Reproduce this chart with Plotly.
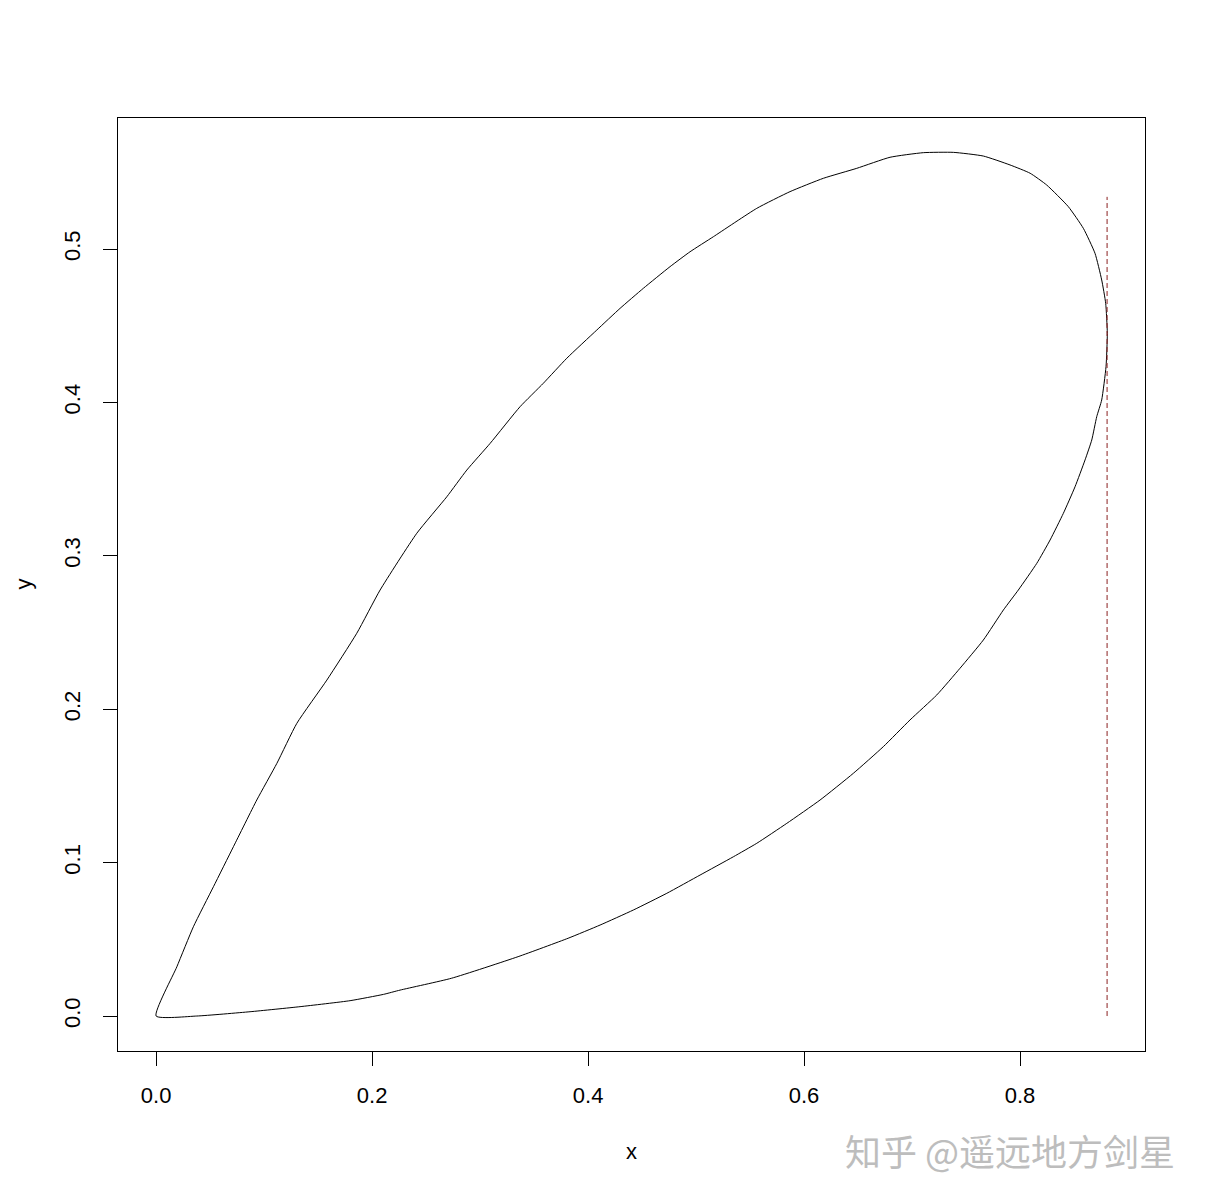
import plotly.graph_objects as go

# Closed loop curve, starting and ending at the origin
curve_x = [0.0000, 0.0192, 0.0345, 0.0531, 0.0716, 0.0932, 0.1118, 0.1303, 0.1581, 0.1858,
           0.2074, 0.2414, 0.2692, 0.2877, 0.3093, 0.3370, 0.3586, 0.3803, 0.4081, 0.4296,
           0.4512, 0.4759, 0.4944, 0.5160, 0.5562, 0.5870, 0.6179, 0.6488, 0.6796, 0.7105,
           0.7383, 0.7660, 0.7907, 0.8093, 0.8247, 0.8447, 0.8586, 0.8694, 0.8756, 0.8793,
           0.8808, 0.8796, 0.8756, 0.8710, 0.8664, 0.8602, 0.8509, 0.8401, 0.8278, 0.8155,
           0.7984, 0.7846, 0.7660, 0.7444, 0.7229, 0.6981, 0.6734, 0.6456, 0.6148, 0.5840,
           0.5562, 0.5345, 0.5037, 0.4729, 0.4419, 0.4111, 0.3815, 0.3352, 0.2734, 0.2259,
           0.2105, 0.1796, 0.1333, 0.0870, 0.0377, 0.0000]
curve_y = [0.0000, 0.0321, 0.0582, 0.0843, 0.1104, 0.1408, 0.1647, 0.1908, 0.2190, 0.2495,
           0.2777, 0.3147, 0.3385, 0.3559, 0.3733, 0.3972, 0.4125, 0.4288, 0.4472, 0.4613,
           0.4744, 0.4885, 0.4982, 0.5080, 0.5265, 0.5374, 0.5461, 0.5526, 0.5598, 0.5628,
           0.5630, 0.5606, 0.5548, 0.5494, 0.5417, 0.5276, 0.5135, 0.4972, 0.4798, 0.4646,
           0.4450, 0.4233, 0.4016, 0.3907, 0.3755, 0.3625, 0.3450, 0.3277, 0.3103, 0.2951,
           0.2777, 0.2647, 0.2451, 0.2267, 0.2093, 0.1930, 0.1756, 0.1582, 0.1408, 0.1256,
           0.1126, 0.1038, 0.0919, 0.0800, 0.0691, 0.0593, 0.0507, 0.0387, 0.0246, 0.0169,
           0.0141, 0.0100, 0.0061, 0.0028, 0.0000, 0.0000]

# Vertical dashed reference line
vline_x = [0.8806, 0.8806]
vline_y = [0.0, 0.534]

x_ticks = [0.0, 0.2, 0.4, 0.6, 0.8]
x_tick_labels = ["0.0", "0.2", "0.4", "0.6", "0.8"]
y_ticks = [0.0, 0.1, 0.2, 0.3, 0.4, 0.5]
y_tick_labels = ["0.0", "0.1", "0.2", "0.3", "0.4", "0.5"]

FONT = "Liberation Sans, Arial, sans-serif"

fig = go.Figure()
fig.add_trace(go.Scatter(x=curve_x, y=curve_y, mode="lines",
                         line=dict(color="black", width=1, shape="spline", smoothing=0.5),
                         showlegend=False, hoverinfo="skip"))
fig.add_trace(go.Scatter(x=vline_x, y=vline_y, mode="lines",
                         line=dict(color="#8b1f1f", width=1, dash="5px,3px"),
                         showlegend=False, hoverinfo="skip"))

axis_common = dict(showgrid=False, zeroline=False, showline=True, linecolor="black",
                   linewidth=1, mirror=True, ticks="outside", ticklen=14, tickwidth=1,
                   tickcolor="black", tickfont=dict(family=FONT, size=22, color="black"))

fig.update_xaxes(range=[-0.0353, 0.9157], tickvals=x_ticks, ticktext=x_tick_labels,
                 ticklabelstandoff=11, **axis_common)
fig.update_yaxes(range=[-0.0228, 0.5854], tickvals=y_ticks, ticktext=y_tick_labels,
                 tickangle=-90, ticklabelstandoff=14, **axis_common)

# page body has an 8px margin, so the figure is sized/positioned to compensate
fig.update_layout(
    width=1190, height=1182,
    margin=dict(l=110, r=53, t=110, b=139),
    paper_bgcolor="white", plot_bgcolor="white",
    font=dict(family=FONT, color="black"),
    annotations=[
        dict(text="x", xref="paper", yref="paper", x=0.5, y=0, yshift=-100,
             showarrow=False, xanchor="center", yanchor="middle",
             font=dict(family=FONT, size=22, color="black")),
        dict(text="y", xref="paper", yref="paper", x=0, y=0.5, xshift=-95,
             showarrow=False, xanchor="center", yanchor="middle", textangle=-90,
             font=dict(family=FONT, size=22, color="black")),
        dict(text="知乎 @遥远地方剑星", xref="paper", yref="paper",
             x=1 - (1145 - 1010) / (1145 - 118), y=0, yshift=-99,
             showarrow=False, xanchor="center", yanchor="middle",
             font=dict(family="Noto Sans CJK SC", size=36, color="#bdbdbd")),
    ],
)

fig.write_html("out.html")
